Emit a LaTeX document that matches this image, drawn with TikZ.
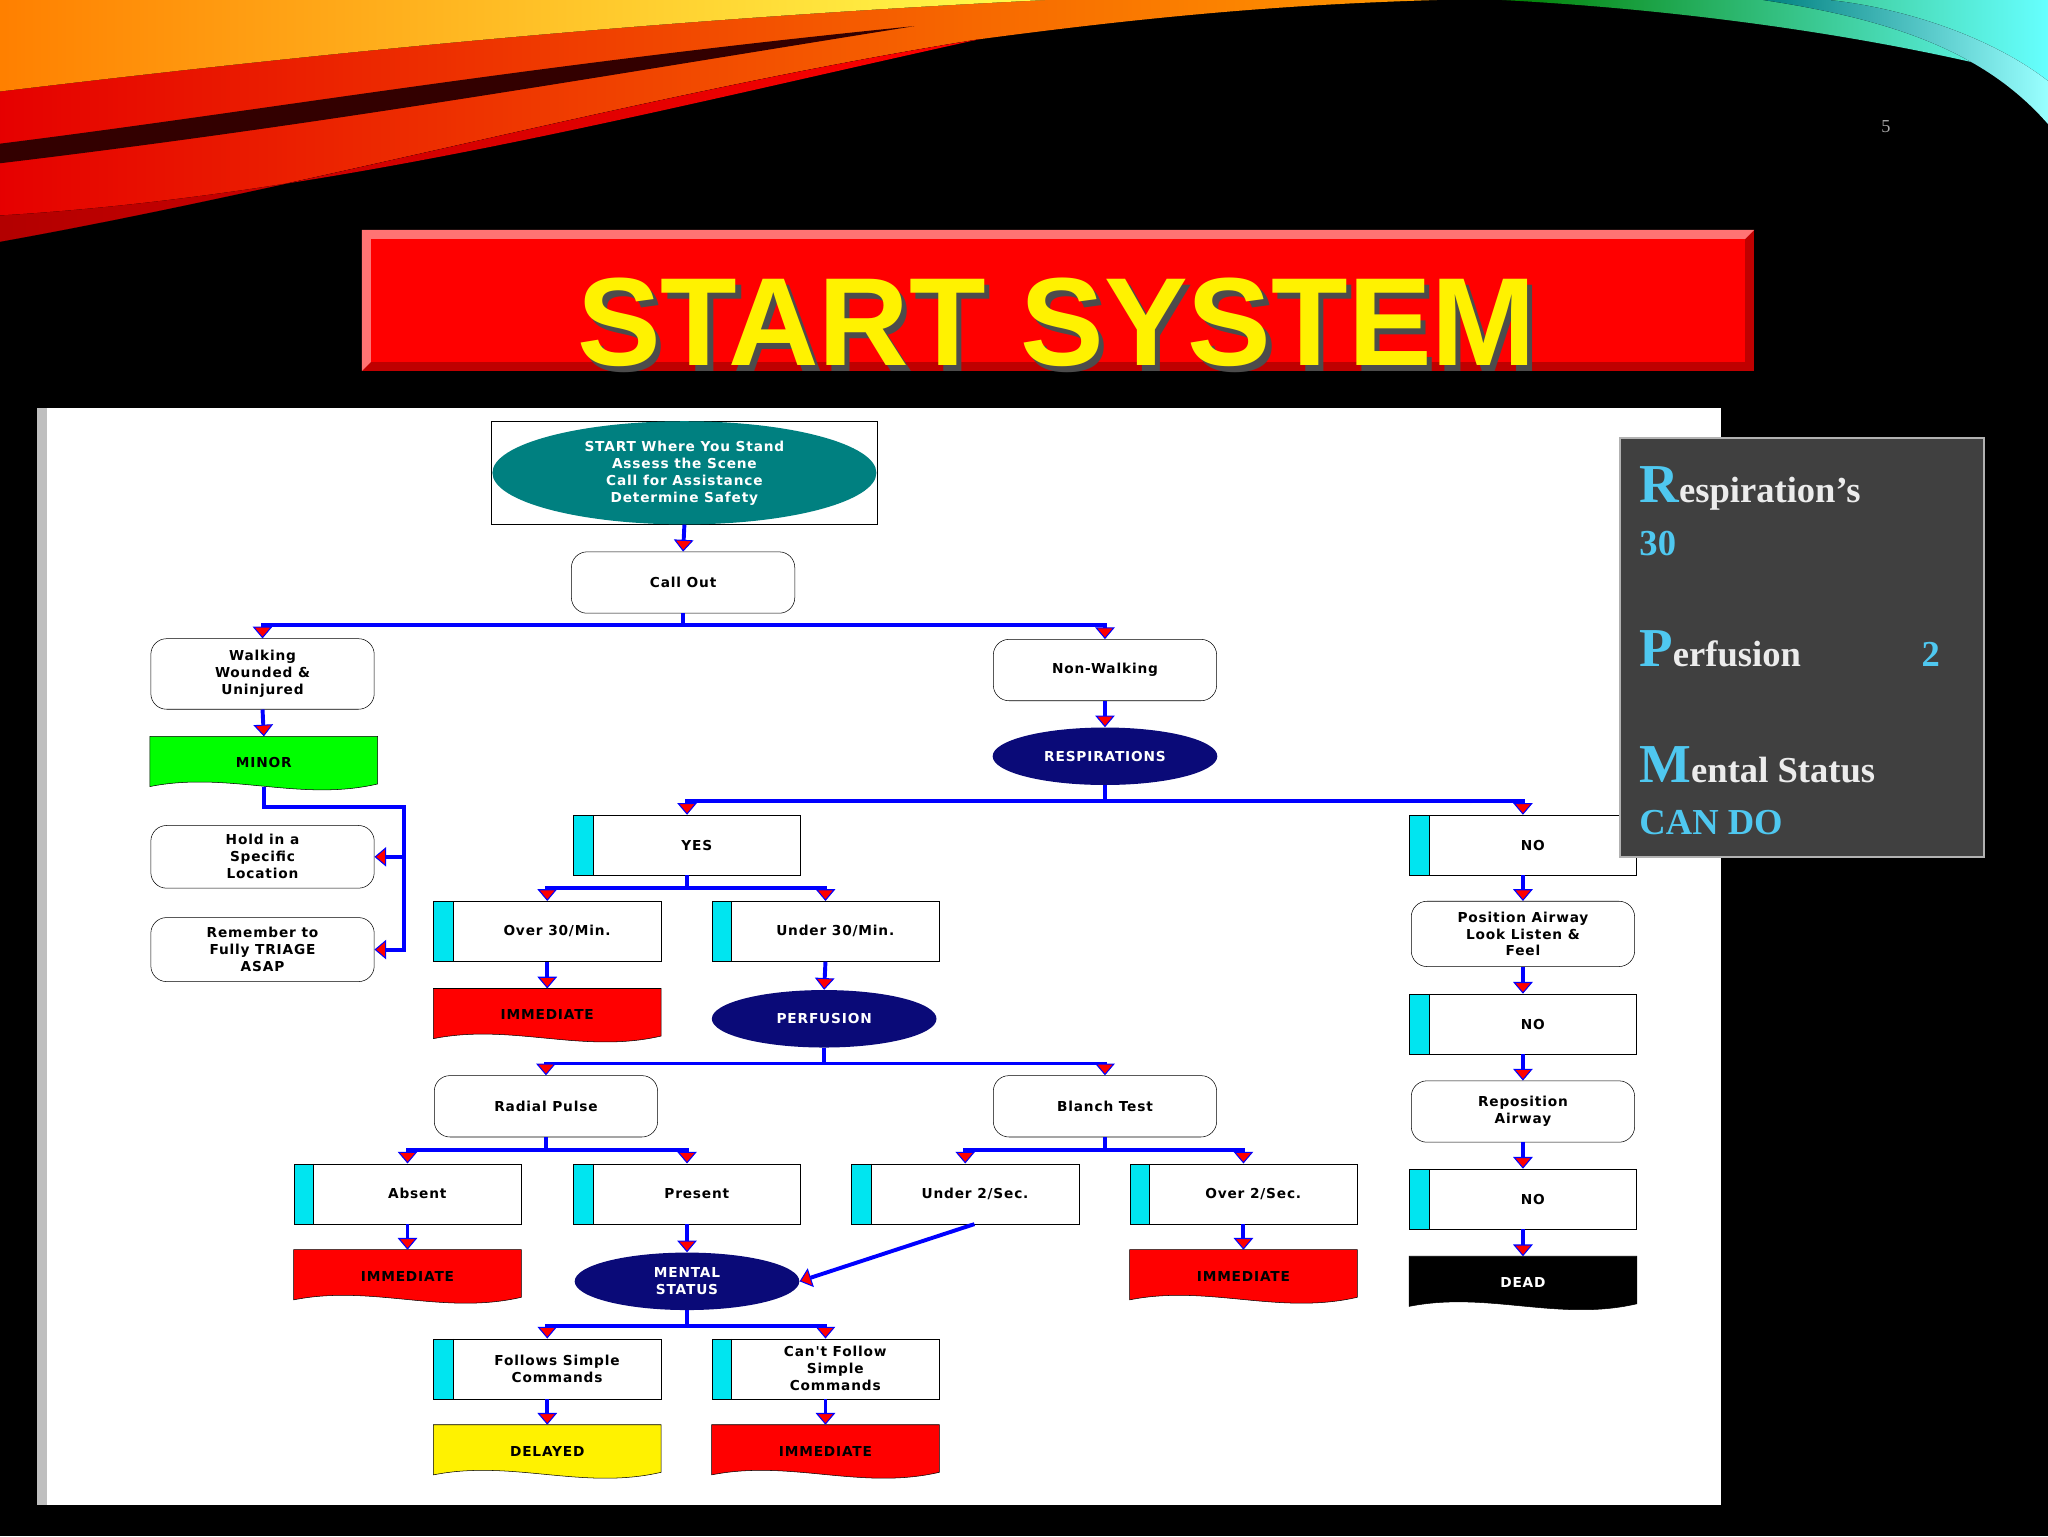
\documentclass[tikz,border=0pt]{standalone}
\usepackage{fontspec}
\setmainfont{Liberation Serif}
\newfontfamily\chartfont{DejaVu Sans}[LetterSpace=6]
\newfontfamily\titlefont{Liberation Sans}
\usetikzlibrary{shapes.geometric,arrows.meta,calc}

\definecolor{navyoval}{HTML}{0A0A78}
\definecolor{tealoval}{HTML}{008080}
\definecolor{sidegray}{HTML}{404040}
\definecolor{sidecyan}{HTML}{4FC8F0}
\definecolor{barcyan}{HTML}{00E5F0}

\tikzset{
  lbl/.style={font=\chartfont\bfseries\fontsize{10.5}{13}\selectfont, align=center},
  rbox/.style={lbl, draw, fill=white, rounded corners=12pt, minimum width=171pt, minimum height=47pt, inner sep=1pt},
  cbox/.style={lbl, draw, fill=white, minimum width=174pt, minimum height=46pt, inner sep=1pt,
    path picture={\fill[barcyan] (path picture bounding box.north west) rectangle ([xshift=15pt]path picture bounding box.south west);
      \draw ([xshift=15pt]path picture bounding box.north west) -- ([xshift=15pt]path picture bounding box.south west);}},
  oval/.style={lbl, ellipse, fill=navyoval, text=white, minimum width=172pt, minimum height=44pt, inner sep=0pt},
  docn/.style={minimum width=174pt, minimum height=42pt, inner sep=0pt},
  arr/.style={draw=blue, line width=3pt, -{Triangle[fill=red, color=blue, line width=0.8pt, length=9pt, width=15pt]}},
}

% document shape: name, position, fill, text colour, text
\newcommand\docnode[5]{%
  \node[docn] (#1) at (#2) {};
  \filldraw[fill=#3, draw=black] (#1.north west) -- (#1.north east) -- ($(#1.south east)+(0,-6)$)
    .. controls ($(#1.south east)+(-60,8)$) and ($(#1.south west)+(60,-16)$) .. ($(#1.south west)+(0,-4)$) -- cycle;
  \node[lbl, text=#4] at ($(#1)+(0,-1)$) {#5};
}

\begin{document}
\begin{tikzpicture}[x=1pt, y=-1pt]
\fill[black] (0,0) rectangle (1568,1176);
\useasboundingbox (0,0) rectangle (1568,1176);

% Swoosh
\fill[left color=red!90!black, right color=orange!80!yellow] (0,0) -- (0,185) .. controls (250,140) and (500,70) .. (750,30) .. controls (900,10) and (1000,3) .. (1100,0) -- cycle;
\fill[left color=orange, right color=yellow!70!white] (0,0) -- (0,70) .. controls (250,40) and (500,15) .. (800,0) -- cycle;
\fill[black!80!red] (0,110) .. controls (200,85) and (400,50) .. (700,20) .. controls (450,60) and (250,95) .. (0,125) -- cycle;
\fill[left color=red!70!black, right color=red] (0,185) .. controls (250,140) and (500,70) .. (750,30) .. controls (500,85) and (250,150) .. (0,165) -- cycle;
\fill[left color=green!50!black, right color=cyan!60!white] (1150,0) .. controls (1300,8) and (1450,30) .. (1568,62) -- (1568,0) -- cycle;
\fill[left color=teal, right color=cyan!40!white] (1350,0) .. controls (1450,15) and (1520,40) .. (1568,95) -- (1568,62) .. controls (1520,25) and (1450,5) .. (1400,0) -- cycle;
\node[text=gray!70, font=\fontsize{14}{14}\selectfont] (page) at (1444,97) {5};

% Title bar
\fill[red!75!black] (277,176) rectangle (1343,284);
\fill[red!55!white] (277,176) -- (1343,176) -- (1336,183) -- (284,183) -- (284,277) -- (277,284) -- cycle;
\fill[red] (284,183) rectangle (1336,277);
\node[font=\titlefont\bfseries\fontsize{96}{96}\selectfont, text=black!70] at (813,251) {START SYSTEM};
\node[font=\titlefont\bfseries\fontsize{96}{96}\selectfont, text=yellow] (title) at (809,247) {START SYSTEM};

% Chart panel
\fill[white] (28,312) rectangle (1318,1152);
\fill[gray!50] (28,312) rectangle (36,1152);

% Start
\node[draw, fill=white, minimum width=296pt, minimum height=79pt] (startbox) at (524,362) {};
\node[lbl, ellipse, fill=tealoval, text=white, minimum width=294pt, minimum height=79pt, inner sep=0pt] (start) at (524,362)
  {START Where You Stand\\Assess the Scene\\Call for Assistance\\Determine Safety};

\node[rbox] (call) at (523,446) {Call Out};
\node[rbox, minimum height=54pt] (walk) at (201,516) {Walking\\Wounded \&\\Uninjured};
\node[rbox] (nonwalk) at (846,513) {Non-Walking};
\docnode{minor}{202,585}{green}{black}{MINOR}
\node[oval] (resp) at (846,579) {RESPIRATIONS};
\node[rbox, minimum height=48pt] (hold) at (201,656) {Hold in a\\Specific\\Location};
\node[rbox, minimum height=49pt] (remember) at (201,727) {Remember to\\Fully TRIAGE\\ASAP};

\node[cbox] (yes) at (526,647) {\hspace*{15pt}YES};
\node[cbox] (no) at (1166,647) {\hspace*{15pt}NO};
\node[cbox] (over30) at (419,713) {\hspace*{15pt}Over 30/Min.};
\node[cbox] (under30) at (632,713) {\hspace*{15pt}Under 30/Min.};
\docnode{imm1}{419,778}{red}{black}{IMMEDIATE}
\node[oval] (perf) at (631,780) {PERFUSION};
\node[rbox] (radial) at (418,847) {Radial Pulse};
\node[rbox] (blanch) at (846,847) {Blanch Test};
\node[cbox] (absent) at (312,914) {\hspace*{15pt}Absent};
\node[cbox] (present) at (526,914) {\hspace*{15pt}Present};
\node[cbox] (under2) at (739,914) {\hspace*{15pt}Under 2/Sec.};
\node[cbox] (over2) at (952,914) {\hspace*{15pt}Over 2/Sec.};
\docnode{imm2}{312,978}{red}{black}{IMMEDIATE}
\node[oval] (mental) at (526,981) {MENTAL\\STATUS};
\docnode{imm3}{952,978}{red}{black}{IMMEDIATE}
\node[cbox] (follow) at (419,1048) {\hspace*{15pt}Follows Simple\\\hspace*{15pt}Commands};
\node[cbox] (cant) at (632,1048) {\hspace*{15pt}Can't Follow\\\hspace*{15pt}Simple\\\hspace*{15pt}Commands};
\docnode{delayed}{419,1112}{yellow}{black}{DELAYED}
\docnode{imm4}{632,1112}{red}{black}{IMMEDIATE}

\node[rbox, minimum height=50pt] (airway) at (1166,715) {Position Airway\\Look Listen \&\\Feel};
\node[cbox] (no2) at (1166,784) {\hspace*{15pt}NO};
\node[rbox] (repos) at (1166,851) {Reposition\\Airway};
\node[cbox] (no3) at (1166,918) {\hspace*{15pt}NO};
\docnode{dead}{1166,983}{black}{white}{DEAD}

% Connectors
\draw[arr] (start.south) -- (call.north);
\draw[arr] (call.south) -- ++(0,9) -| (walk.north);
\draw[arr] (call.south) -- ++(0,9) -| (nonwalk.north);
\draw[arr] (walk.south) -- (minor.north);
\draw[arr] (nonwalk.south) -- (resp.north);
\coordinate (mv) at (309,618);
\draw[arr] ($(minor.south)+(0,-4)$) |- (mv) |- (remember.east);
\draw[arr] (mv) |- (hold.east);
\draw[arr] (resp.south) -- ++(0,12) -| (yes.north);
\draw[arr] (resp.south) -- ++(0,12) -| (no.north);
\draw[arr] (yes.south) -- ++(0,10) -| (over30.north);
\draw[arr] (yes.south) -- ++(0,10) -| (under30.north);
\draw[arr] (over30.south) -- (imm1.north);
\draw[arr] (under30.south) -- (perf.north);
\draw[arr] (perf.south) -- ++(0,12) -| (radial.north);
\draw[arr] (perf.south) -- ++(0,12) -| (blanch.north);
\draw[arr] (radial.south) -- ++(0,10) -| (absent.north);
\draw[arr] (radial.south) -- ++(0,10) -| (present.north);
\draw[arr] (blanch.south) -- ++(0,10) -| (under2.north);
\draw[arr] (blanch.south) -- ++(0,10) -| (over2.north);
\draw[arr] (absent.south) -- (imm2.north);
\draw[arr] (present.south) -- (mental.north);
\draw[arr] (over2.south) -- (imm3.north);
\draw[arr] ([xshift=7pt]under2.south) -- (mental.east);
\draw[arr] (mental.south) -- ++(0,12) -| (follow.north);
\draw[arr] (mental.south) -- ++(0,12) -| (cant.north);
\draw[arr] (follow.south) -- (delayed.north);
\draw[arr] (cant.south) -- (imm4.north);
\draw[arr] (no.south) -- (airway.north);
\draw[arr] (airway.south) -- (no2.north);
\draw[arr] (no2.south) -- (repos.north);
\draw[arr] (repos.south) -- (no3.north);
\draw[arr] (no3.south) -- (dead.north);

% Side box
\filldraw[fill=sidegray, draw=gray!60, line width=1.5pt] (1240,335) rectangle (1519,656);
\begin{scope}[font=\bfseries\fontsize{28}{28}\selectfont, text=gray!15]
\node[anchor=base west, inner sep=0pt] (rp) at (1255,385) {\textcolor{sidecyan}{\fontsize{42}{42}\selectfont R}espiration's};
\node[anchor=base west, inner sep=0pt, text=sidecyan] (rpv) at (1255,425) {30};
\node[anchor=base west, inner sep=0pt] (pf) at (1255,510) {\textcolor{sidecyan}{\fontsize{42}{42}\selectfont P}erfusion};
\node[anchor=base west, inner sep=0pt, text=sidecyan] (pfv) at (1471,510) {2};
\node[anchor=base west, inner sep=0pt] (ms) at (1255,599) {\textcolor{sidecyan}{\fontsize{42}{42}\selectfont M}ental Status};
\node[anchor=base west, inner sep=0pt, text=sidecyan] (msv) at (1255,639) {CAN DO};
\end{scope}
\end{tikzpicture}
\end{document}
